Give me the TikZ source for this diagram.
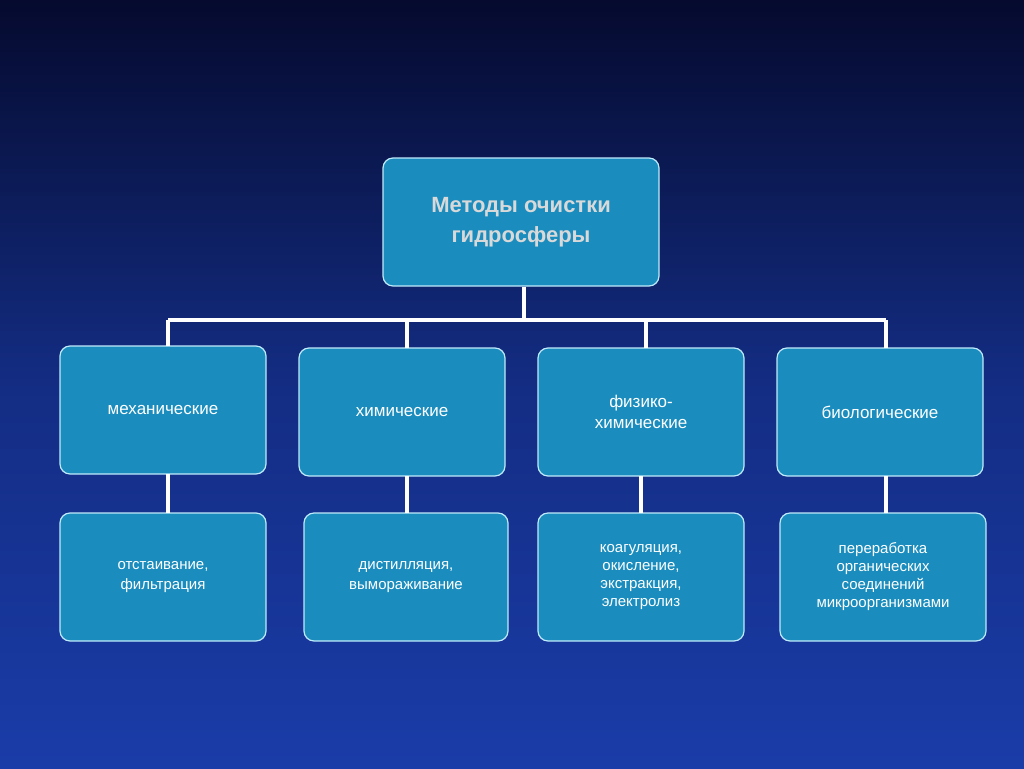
\documentclass[tikz,border=0pt]{standalone}
\usepackage{fontspec}
\setmainfont{Liberation Sans}
\begin{document}
\begin{tikzpicture}[x=1pt,y=-1pt,
  box/.style={draw=white!75!cyan, line width=1.2pt, rounded corners=10pt, fill=bx, align=center, text=white, font=\fontsize{17}{21}\selectfont},
  sbox/.style={box, font=\fontsize{15}{20}\selectfont},
  conn/.style={draw=white, line width=4pt}]
\definecolor{bx}{HTML}{1A8DBE}
\definecolor{topc}{HTML}{050A2E}
\definecolor{botc}{HTML}{1A3CA8}
\shade[top color=topc, bottom color=botc, middle color=botc!70!topc] (0,0) rectangle (1024,768);
\useasboundingbox (0,0) rectangle (1024,768);
\node[box, minimum width=276pt, minimum height=128pt, font=\bfseries\fontsize{22}{30}\selectfont, text=white!85!black] (t) at (521,222) {Методы очистки\\гидросферы};
\node[box, minimum width=206pt, minimum height=128pt] (a) at (163,410) {механические};
\node[box, minimum width=206pt, minimum height=128pt] (b) at (402,412) {химические};
\node[box, minimum width=206pt, minimum height=128pt] (c) at (641,412) {физико-\\химические};
\node[box, minimum width=206pt, minimum height=128pt] (d) at (880,412) {биологические};
\node[sbox, minimum width=206pt, minimum height=128pt] (a2) at (163,577) {отстаивание,\\фильтрация};
\node[sbox, minimum width=204pt, minimum height=128pt] (b2) at (406,577) {дистилляция,\\вымораживание};
\node[sbox, minimum width=206pt, minimum height=128pt, font=\fontsize{15}{18}\selectfont] (c2) at (641,577) {коагуляция,\\окисление,\\экстракция,\\электролиз};
\node[sbox, minimum width=206pt, minimum height=128pt, font=\fontsize{15}{18}\selectfont] (d2) at (883,577) {переработка\\органических\\соединений\\микроорганизмами};
\coordinate (j) at (524,320);
\draw[conn] (t.south -| j) -- (j);
\draw[conn] (168,320) -- (886,320);
\draw[conn] (168,320) -- (168,346);
\draw[conn] (407,320) -- (407,348);
\draw[conn] (646,320) -- (646,348);
\draw[conn] (886,320) -- (886,348);
\draw[conn] (168,474) -- (168,513);
\draw[conn] (407,476) -- (407,513);
\draw[conn] (641,476) -- (641,513);
\draw[conn] (886,476) -- (886,513);
\end{tikzpicture}
\end{document}
